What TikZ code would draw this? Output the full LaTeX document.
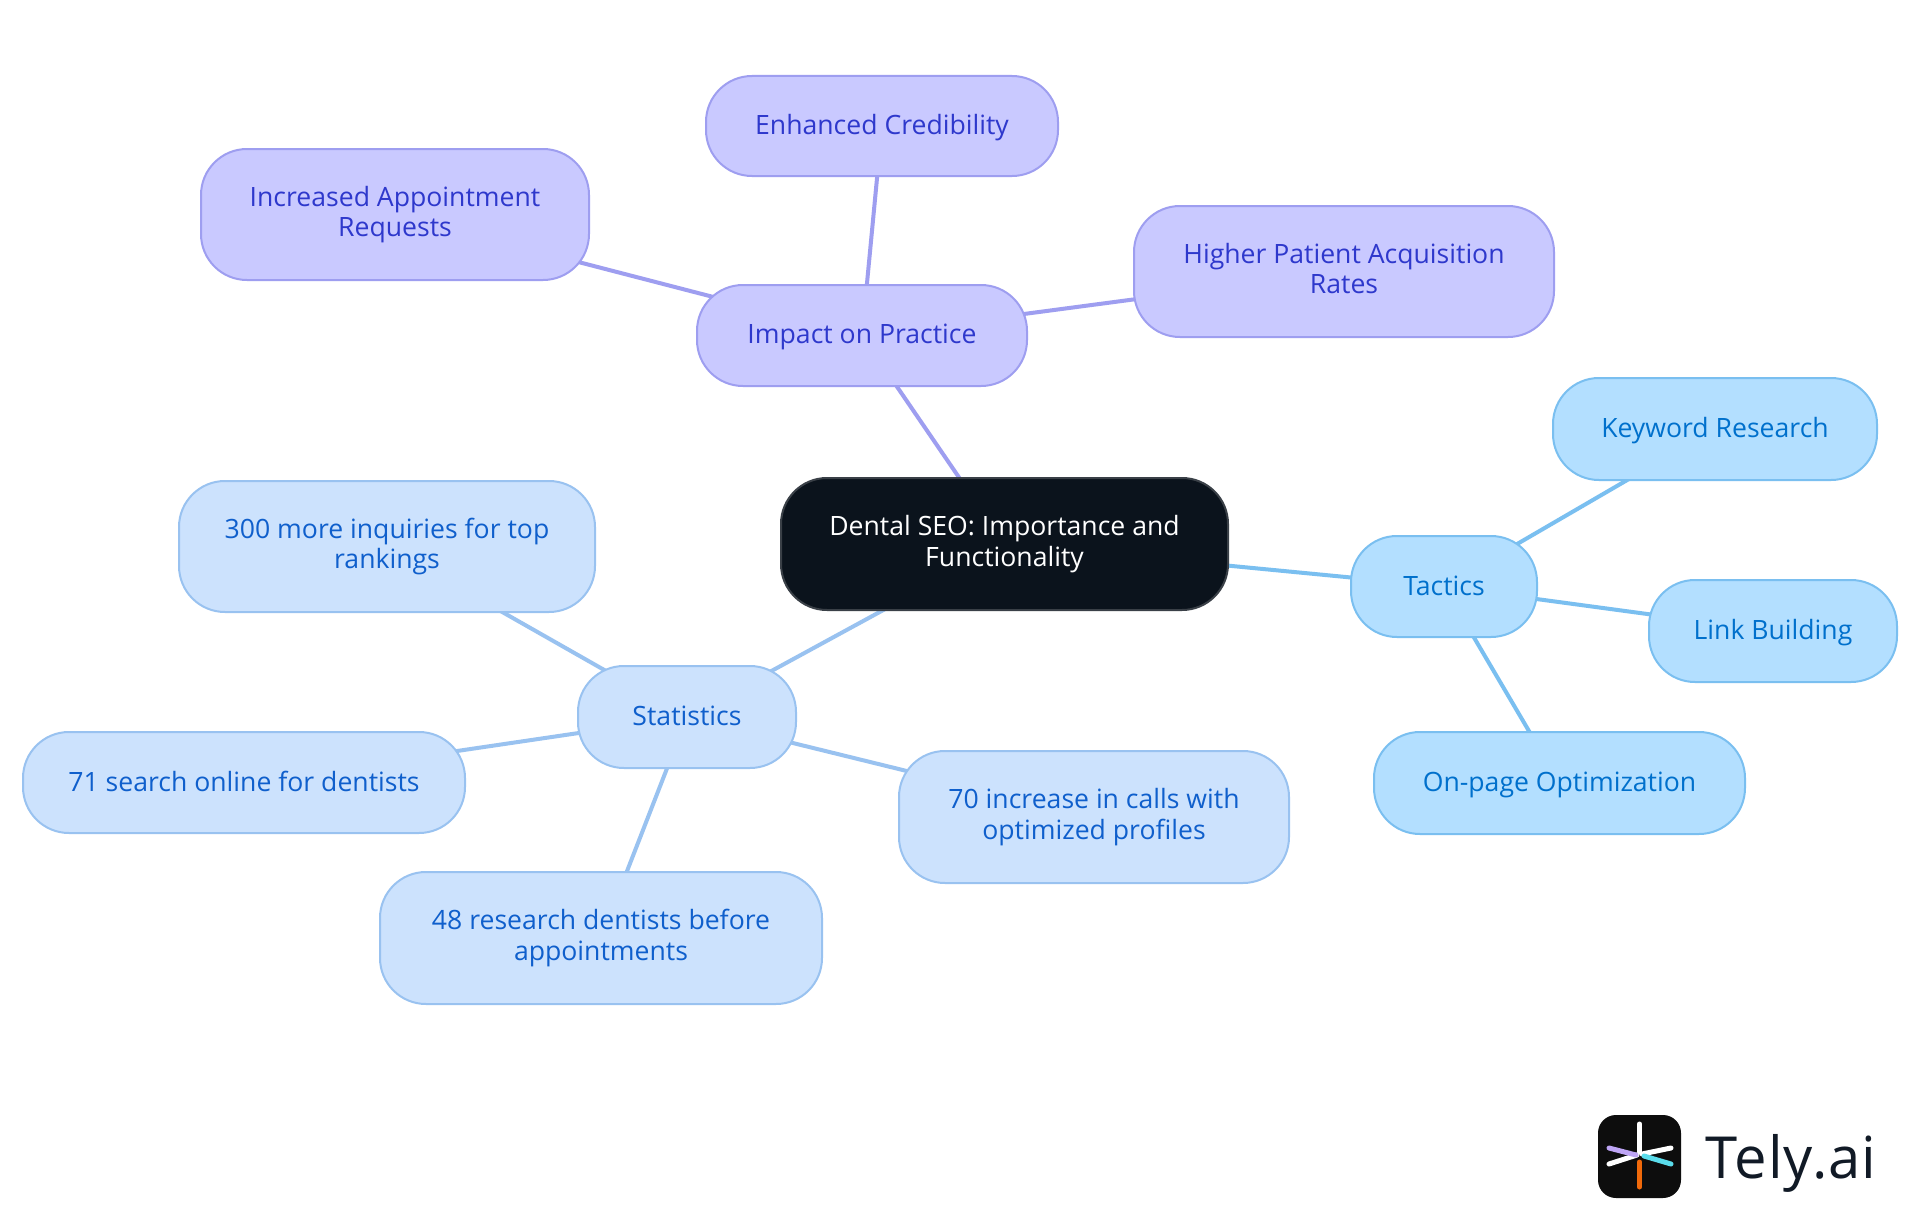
\documentclass[tikz,border=0pt]{standalone}
\usepackage{fontspec}
\setmainfont{Open Sans}
\usetikzlibrary{backgrounds}
\definecolor{rootfill}{HTML}{0B131C}
\definecolor{rootline}{HTML}{3A4047}
\definecolor{vfill}{HTML}{C9C9FF}
\definecolor{vline}{HTML}{9E9EF0}
\definecolor{vtext}{HTML}{2E38CC}
\definecolor{sfill}{HTML}{CCE2FD}
\definecolor{sline}{HTML}{99C2F0}
\definecolor{stext}{HTML}{0F5FCC}
\definecolor{tfill}{HTML}{B3DFFF}
\definecolor{tline}{HTML}{7ABFF0}
\definecolor{ttext}{HTML}{0070CC}
\definecolor{logoink}{HTML}{111A26}
\newcommand{\boxstrutA}{\rule[-6pt]{0pt}{29pt}}
\newcommand{\boxstrutB}{\rule[-6pt]{0pt}{32pt}}
\tikzset{
  x=1pt,y=-1pt,
  box/.style={rectangle,rounded corners=46pt,inner sep=0pt,align=center,line width=2pt,
    font=\fontsize{26.6}{30.5}\selectfont,
    execute at begin node=\boxstrutA,execute at end node=\boxstrutA},
  twolines/.style={execute at begin node=\boxstrutB},
  rootbox/.style={box,fill=rootfill,draw=rootline,text=white},
  vbox/.style={box,fill=vfill,draw=vline,text=vtext},
  sbox/.style={box,fill=sfill,draw=sline,text=stext},
  tbox/.style={box,fill=tfill,draw=tline,text=ttext},
  vedge/.style={draw=vline,line width=4pt},
  sedge/.style={draw=sline,line width=4pt},
  tedge/.style={draw=tline,line width=4pt},
  spoke/.style={line width=5pt,line cap=round},
}
\begin{document}
\begin{tikzpicture}
\useasboundingbox (0,0) rectangle (1920,1215);
\node[rootbox,twolines,minimum width=447pt,minimum height=132pt] (root) at (1004.5,544) {Dental SEO: Importance and\\Functionality};
\node[vbox,minimum width=330pt,minimum height=101pt] (impact) at (862,335.5) {Impact on Practice};
\node[vbox,minimum width=352pt,minimum height=100pt] (cred) at (882,126) {Enhanced Credibility};
\node[vbox,twolines,minimum width=388pt,minimum height=131pt] (appt) at (395,214.5) {Increased Appointment\\Requests};
\node[vbox,twolines,minimum width=420pt,minimum height=131pt] (acq) at (1344,271.5) {Higher Patient Acquisition\\Rates};
\node[tbox,minimum width=186pt,minimum height=101pt] (tactics) at (1444,586.5) {Tactics};
\node[tbox,minimum width=324pt,minimum height=102pt] (kw) at (1715,429) {Keyword Research};
\node[tbox,minimum width=248pt,minimum height=102pt] (link) at (1773,631) {Link Building};
\node[tbox,minimum width=371pt,minimum height=102pt] (onpage) at (1559.5,783) {On-page Optimization};
\node[sbox,minimum width=218pt,minimum height=102pt] (stats) at (687,717) {Statistics};
\node[sbox,twolines,minimum width=416pt,minimum height=131pt] (s300) at (387,546.5) {300 more inquiries for top\\rankings};
\node[sbox,minimum width=442pt,minimum height=101pt] (s71) at (244,782.5) {71 search online for dentists};
\node[sbox,twolines,minimum width=442pt,minimum height=132pt] (s48) at (601,938) {48 research dentists before\\appointments};
\node[sbox,twolines,minimum width=390pt,minimum height=132pt] (s70) at (1094,817) {70 increase in calls with\\optimized profiles};
\begin{pgfonlayer}{background}
\fill[white] (0,0) rectangle (1920,1215);
\draw[vedge] (root.center) -- (impact.center);
\draw[vedge] (impact.center) -- (cred.center);
\draw[vedge] (impact.center) -- (appt.center);
\draw[vedge] (impact.center) -- (acq.center);
\draw[tedge] (root.center) -- (tactics.center);
\draw[tedge] (tactics.center) -- (kw.center);
\draw[tedge] (tactics.center) -- (link.center);
\draw[tedge] (tactics.center) -- (onpage.center);
\draw[sedge] (root.center) -- (stats.center);
\draw[sedge] (stats.center) -- (s300.center);
\draw[sedge] (stats.center) -- (s71.center);
\draw[sedge] (stats.center) -- (s48.center);
\draw[sedge] (stats.center) -- (s70.center);
\end{pgfonlayer}
% logo
\fill[black!95!white,rounded corners=18pt] (1598,1115) rectangle (1681,1198);
\draw[spoke,white] (1639.5,1124) -- (1639.5,1152);
\draw[spoke,white] (1671,1148) -- (1642,1154);
\draw[spoke,white] (1609,1164) -- (1637,1155);
\draw[spoke,color={rgb,255:red,190;green,165;blue,245}] (1609,1148) -- (1636,1155);
\draw[spoke,color={rgb,255:red,90;green,220;blue,235}] (1671,1164) -- (1644,1156);
\draw[spoke,color={rgb,255:red,240;green,105;blue,10}] (1639.5,1162) -- (1639.5,1187);
\node[anchor=base west,inner sep=0pt,text=logoink,font=\fontsize{58}{58}\selectfont\addfontfeature{LetterSpace=2}] (brand) at (1705,1178) {Tely.ai};
\end{tikzpicture}
\end{document}
